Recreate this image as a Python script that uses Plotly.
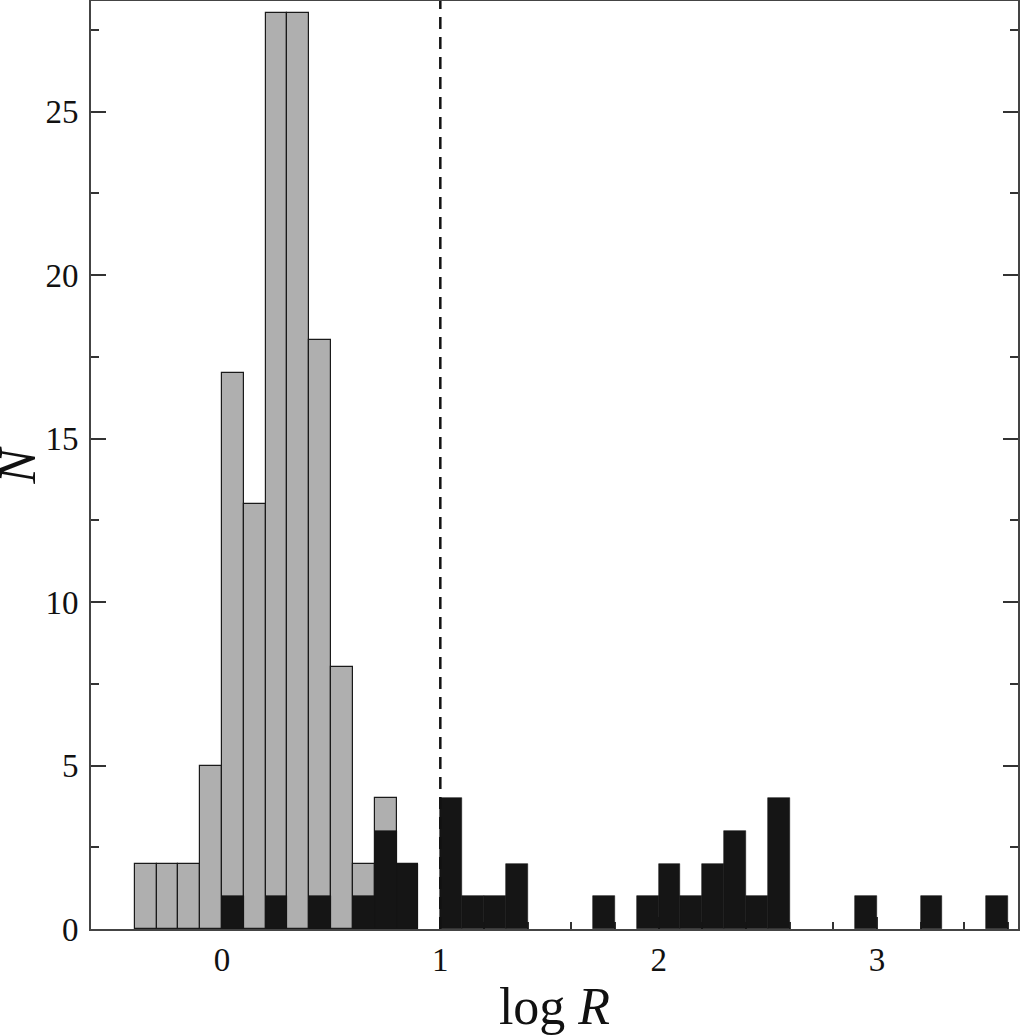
import plotly.graph_objects as go

# histogram bins (width 0.1 in log R), left edges
bin_width = 0.1
all_left = [-0.4, -0.3, -0.2, -0.1, 0.0, 0.1, 0.2, 0.3, 0.4, 0.5, 0.6, 0.7, 0.8]
all_counts = [2, 2, 2, 5, 17, 13, 28, 28, 18, 8, 2, 4, 2]

# subset shown in black
sub_left = [0.0, 0.2, 0.4, 0.6, 0.7, 0.8, 1.0, 1.1, 1.2, 1.3, 1.7, 1.9, 2.0,
            2.1, 2.2, 2.3, 2.4, 2.5, 2.9, 3.2, 3.5]
sub_counts = [1, 1, 1, 1, 3, 2, 4, 1, 1, 2, 1, 1, 2, 1, 2, 3, 1, 4, 1, 1, 1]

x_ticks = [0, 1, 2, 3]
y_ticks = [0, 5, 10, 15, 20, 25]
cut_value = 1.0

fig = go.Figure()

fig.add_trace(go.Bar(
    x=[v + bin_width / 2 for v in all_left], y=all_counts, width=bin_width,
    marker=dict(color="#afafaf", line=dict(color="#1a1a1a", width=1.2)),
    showlegend=False,
))
fig.add_trace(go.Bar(
    x=[v + bin_width / 2 for v in sub_left], y=sub_counts, width=bin_width,
    marker=dict(color="#151515", line=dict(color="#151515", width=0.6)),
    showlegend=False,
))

# dashed divider at log R = 1
fig.add_shape(type="line", x0=cut_value, x1=cut_value, y0=0, y1=1,
              xref="x", yref="paper",
              line=dict(color="#111111", width=2.5, dash="12px,8px"))

# y title as an annotation so it can sit right at the page edge
fig.add_annotation(text="<i>N</i>", textangle=-90, showarrow=False,
                   xref="paper", yref="paper", x=0, y=0.5,
                   xanchor="right", yanchor="middle", xshift=-44,
                   font=dict(size=52))

fig.update_layout(
    width=1020, height=1036,
    margin=dict(l=91, r=2, t=1, b=107),
    barmode="overlay", bargap=0,
    plot_bgcolor="white", paper_bgcolor="white",
    font=dict(family="Liberation Serif", color="#111111", size=33),
)

fig.update_xaxes(
    range=[-0.6, 3.646], tickvals=x_ticks, ticktext=[str(t) for t in x_ticks],
    ticks="inside", ticklen=12, tickwidth=1.5, tickcolor="#333333",
    minor=dict(dtick=0.2, tick0=0, ticks="inside", ticklen=7, tickwidth=1.5, tickcolor="#333333"),
    showline=True, linecolor="#444444", linewidth=2, mirror=True,
    showgrid=False, zeroline=False, layer="below traces", automargin=False,
    title=dict(text="log <i>R</i>", font=dict(size=52), standoff=11),
)
fig.update_yaxes(
    range=[0, 28.38], tickvals=y_ticks, ticklabelstandoff=4,
    ticks="inside", ticklen=15, tickwidth=1.5, tickcolor="#333333",
    minor=dict(dtick=2.5, tick0=0, ticks="inside", ticklen=8, tickwidth=1.5, tickcolor="#333333"),
    showline=True, linecolor="#444444", linewidth=2, mirror="ticks",
    showgrid=False, zeroline=False, layer="below traces", automargin=False,
)

# page body has a default 8px margin; drop it so the figure sits at the corner
fig.write_html("out.html", config={"displayModeBar": False},
               post_script="document.body.style.margin='0';")
